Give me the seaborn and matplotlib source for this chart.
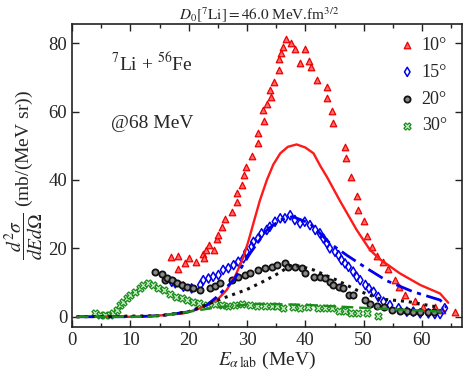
import matplotlib
matplotlib.use("Agg")
import matplotlib.pyplot as plt
import pandas as pd
import seaborn as sns
from matplotlib.ticker import MultipleLocator

# measured spectra (E_alpha in MeV, cross section in mb/(MeV sr))
e_10 = [16.9, 18.1, 18.1, 19.4, 20.1, 21.3, 22.5, 22.7, 22.9, 23.4, 24.3, 24.9, 25.1,
        25.7, 26.2, 27.4, 28.2, 28.2, 29.1, 29.5, 29.9, 30.8, 31.8, 31.8, 32.9, 32.8,
        33.5, 34.1, 33.9, 34.6, 35.5, 35.5, 35.9, 36.1, 36.7, 37.5, 38.2, 39.0, 40.0,
        40.7, 41.0, 42.0, 43.7, 43.7, 44.5, 44.8, 46.8, 47.0, 47.9, 48.8, 49.0, 50.1,
        50.5, 51.4, 52.2, 53.3, 54.2, 55.4, 56.1, 57.1, 58.8, 60.1, 62.2, 63.5, 65.7]
xs_10 = [17.4, 17.7, 13.9, 15.6, 17.1, 16.1, 18.5, 17.1, 19.5, 21.0, 19.5, 22.6, 23.9,
         26.3, 28.5, 30.7, 33.6, 36.3, 38.5, 41.4, 43.7, 47.0, 50.7, 53.6, 57.3, 60.4,
         62.2, 64.3, 66.3, 68.7, 72.1, 75.3, 77.0, 79.0, 81.1, 80.2, 78.2, 74.3, 78.2,
         74.9, 72.9, 69.2, 67.1, 63.9, 60.2, 56.7, 49.7, 46.3, 40.9, 35.3, 31.2, 28.1,
         23.6, 20.5, 17.7, 16.1, 13.9, 10.9, 8.8, 6.3, 4.7, 2.9, 2.9, 2.0, 1.3]

e_15 = [17.1, 17.7, 19.1, 20.5, 22.0, 22.5, 23.4, 24.2, 25.1, 25.9, 26.8, 27.7, 28.5,
        29.4, 29.9, 30.8, 31.1, 31.9, 32.5, 33.4, 33.9, 34.8, 35.7, 36.5, 37.4, 38.2,
        39.1, 39.9, 40.8, 41.7, 42.5, 43.1, 43.7, 44.2, 45.1, 45.7, 46.2, 46.8, 47.4,
        48.2, 48.8, 49.4, 50.3, 50.9, 51.7, 52.5, 53.4, 54.5, 56.0, 57.4, 58.5, 59.7,
        61.1, 62.2, 63.1, 63.9]
xs_15 = [10.2, 9.8, 8.8, 8.3, 9.3, 10.7, 11.2, 11.7, 12.2, 13.7, 14.2, 15.1, 16.1,
         17.1, 19.0, 20.5, 21.9, 22.9, 24.4, 25.4, 26.3, 27.8, 28.8, 28.8, 29.7, 28.3,
         27.3, 27.8, 26.8, 25.4, 24.4, 22.9, 21.5, 20.0, 19.0, 18.0, 16.6, 15.6, 14.6,
         13.2, 11.7, 10.7, 9.3, 8.3, 7.3, 5.8, 4.4, 3.4, 2.5, 1.5, 1.5, 1.0,
         1.0, 0.8, 0.8, 2.5]

e_20 = [14.2, 15.4, 15.9, 16.2, 17.1, 18.0, 18.8, 19.7, 20.8, 22.0, 23.7, 24.5, 25.4,
        27.4, 28.5, 29.7, 30.5, 31.9, 33.1, 34.2, 35.1, 36.5, 37.1, 38.2, 39.4, 39.9,
        41.4, 42.5, 43.4, 44.2, 44.8, 45.7, 46.5, 47.4, 48.2, 50.3, 51.1, 52.2, 53.4,
        54.8, 56.2, 57.4, 58.5, 59.7, 61.1, 62.0]
xs_20 = [13.1, 12.5, 10.7, 11.2, 10.7, 9.8, 9.3, 8.8, 8.3, 7.8, 8.3, 9.0, 9.8,
         10.7, 11.7, 12.2, 12.7, 13.7, 14.2, 14.6, 15.1, 15.6, 14.6, 14.6, 14.2, 12.7,
         11.7, 11.7, 11.2, 10.2, 9.3, 8.8, 8.3, 6.3, 6.3, 4.9, 3.7, 3.1, 2.9,
         2.1, 1.8, 1.8, 1.5, 1.5, 1.5, 1.5]

e_30 = [3.9, 4.8, 5.7, 6.5, 7.1, 7.7, 8.2, 8.8, 9.4, 9.9, 10.8, 11.7, 12.2, 13.1,
        13.9, 14.8, 15.7, 16.8, 17.9, 18.8, 19.7, 20.8, 21.7, 23.1, 24.5, 25.7, 26.8,
        27.9, 29.1, 30.5, 31.7, 33.1, 34.2, 35.1, 36.2, 37.9, 39.1, 40.5, 42.2, 43.4,
        44.5, 45.7, 46.8, 47.9, 49.1, 50.5, 52.5]
xs_30 = [1.0, 0.5, 0.5, 0.5, 1.0, 2.0, 3.4, 4.4, 5.4, 6.3, 7.3, 8.3, 9.3, 9.8,
         9.3, 8.3, 7.8, 6.8, 5.8, 5.4, 4.9, 4.4, 4.1, 3.4, 3.7, 3.4, 3.1,
         3.4, 3.7, 3.4, 3.1, 3.1, 3.1, 3.1, 2.7, 2.9, 2.5, 2.9, 2.5, 2.5,
         2.5, 1.8, 1.8, 1.2, 1.2, 1.0, 0.2]

# calculated curves
calc_e_10 = [0.8, 10.0, 13.4, 16.0, 19.1, 21.5, 23.7, 25.2, 26.5, 28.0, 29.4, 30.3, 31.2,
             32.2, 33.4, 34.5, 35.7, 37.0, 38.5, 40.0, 41.4, 42.6, 43.7, 45.9, 48.8,
             51.1, 52.8, 56.2, 59.7, 63.1, 64.5]
calc_xs_10 = [0.0, 0.0, 0.2, 0.5, 1.0, 2.2, 3.9, 5.5, 7.8, 12.0, 17.5, 22.5, 28.0,
              34.0, 40.0, 44.5, 47.8, 49.7, 50.4, 49.5, 47.8, 44.0, 40.9, 34.0, 25.4,
              19.5, 16.8, 12.7, 9.3, 6.8, 4.1]

calc_e_15 = [0.8, 10.0, 15.0, 20.2, 23.1, 24.8, 27.7, 30.5, 33.4, 35.7, 37.8, 40.8, 44.2,
             47.1, 50.5, 54.0, 58.5, 63.1, 64.2]
calc_xs_15 = [0.0, 0.0, 0.3, 1.5, 3.4, 5.8, 10.7, 18.5, 25.4, 28.3, 29.3, 27.3, 21.5,
              18.0, 14.2, 10.5, 7.3, 4.9, 2.7]

calc_e_20 = [0.8, 15.0, 20.0, 23.0, 26.0, 30.0, 33.0, 35.7, 37.4, 39.0, 41.4, 45.4, 48.8,
             52.8, 57.4, 63.1]
calc_xs_20 = [0.0, 0.3, 1.5, 3.5, 5.5, 8.0, 10.5, 13.0, 15.0, 14.8, 13.7, 10.7, 7.8,
              5.2, 4.5, 2.7]

calc_e_30 = [0.8, 13.0, 19.0, 25.0, 32.0, 40.0, 50.0, 60.0, 64.2]
calc_xs_30 = [0.0, 0.0, 1.2, 2.8, 3.8, 3.5, 2.6, 1.8, 1.4]

LABELS = ["10°", "15°", "20°", "30°"]
COLORS = ["#ff1a1a", "#0000ee", "#111111", "#1a8c1a"]

sns.set_theme(style="ticks")
plt.rcParams["font.family"] = ["Liberation Serif", "DejaVu Serif"]
plt.rcParams["mathtext.fontset"] = "stix"

fig, ax = plt.subplots(figsize=(4.74, 3.88), dpi=100)
fig.subplots_adjust(left=0.152, right=0.974, top=0.938, bottom=0.158)

# experimental points
marker_kw = [
    dict(marker="^", s=22, facecolor="#ff6a6a", edgecolor="#ee0000", linewidth=0.9),
    dict(marker="d", s=22, facecolor="none", edgecolor="#0000ee", linewidth=1.1),
    dict(marker="o", s=20, facecolor="#8a8a8a", edgecolor="#111111", linewidth=1.3),
    dict(marker="X", s=26, facecolor="#d0f0d0", edgecolor="#1a8c1a", linewidth=0.9),
]
points = [(e_10, xs_10), (e_15, xs_15), (e_20, xs_20), (e_30, xs_30)]
for (xe, ys), lab, kw in zip(points, LABELS, marker_kw):
    sns.scatterplot(x=xe, y=ys, label=lab, ax=ax, zorder=2, **kw)

# theory lines
line_styles = ["-", (0, (6, 2, 1.5, 2)), (0, (1, 1.6)), (0, (5, 2.5))]
line_widths = [1.7, 2.0, 2.2, 1.7]
curves = [(calc_e_10, calc_xs_10), (calc_e_15, calc_xs_15),
          (calc_e_20, calc_xs_20), (calc_e_30, calc_xs_30)]
for (xe, ys), col, ls, lw in zip(curves, COLORS, line_styles, line_widths):
    sns.lineplot(x=xe, y=ys, color=col, linestyle=ls, linewidth=lw,
                 ax=ax, sort=False, legend=False, zorder=3)

ax.set_xlim(0, 66.8)
ax.set_ylim(-2.9, 85.6)
ax.xaxis.set_major_locator(MultipleLocator(10))
ax.xaxis.set_minor_locator(MultipleLocator(5))
ax.yaxis.set_major_locator(MultipleLocator(20))
ax.tick_params(which="both", direction="in", top=True, right=True,
               labelsize=13.5, width=1.0, color="#222222")
ax.tick_params(which="major", length=5)
ax.tick_params(which="minor", length=3)
for sp in ax.spines.values():
    sp.set_linewidth(1.2)
    sp.set_color("#222222")

ax.set_xlabel(r"$E_{\alpha\,\mathrm{lab}}$ (MeV)", fontsize=14, labelpad=1)
ax.set_ylabel(r"$\dfrac{d^2\sigma}{dEd\Omega}$ (mb/(MeV sr))", fontsize=14, labelpad=2)
ax.set_title(r"$D_0[^7\mathrm{Li}]=46.0$ MeV.fm$^{3/2}$", fontsize=11, pad=3, x=0.48)

ax.text(0.1, 0.845, r"$^{7}$Li + $^{56}$Fe", transform=ax.transAxes, fontsize=14)
ax.text(0.1, 0.655, "@68 MeV", transform=ax.transAxes, fontsize=14)

ax.legend(loc="upper right", frameon=False, fontsize=13, handletextpad=0.3,
          labelspacing=0.55, borderaxespad=0.3, handlelength=1.0,
          bbox_to_anchor=(0.995, 1.0))

fig.savefig("out.png", dpi=100)
